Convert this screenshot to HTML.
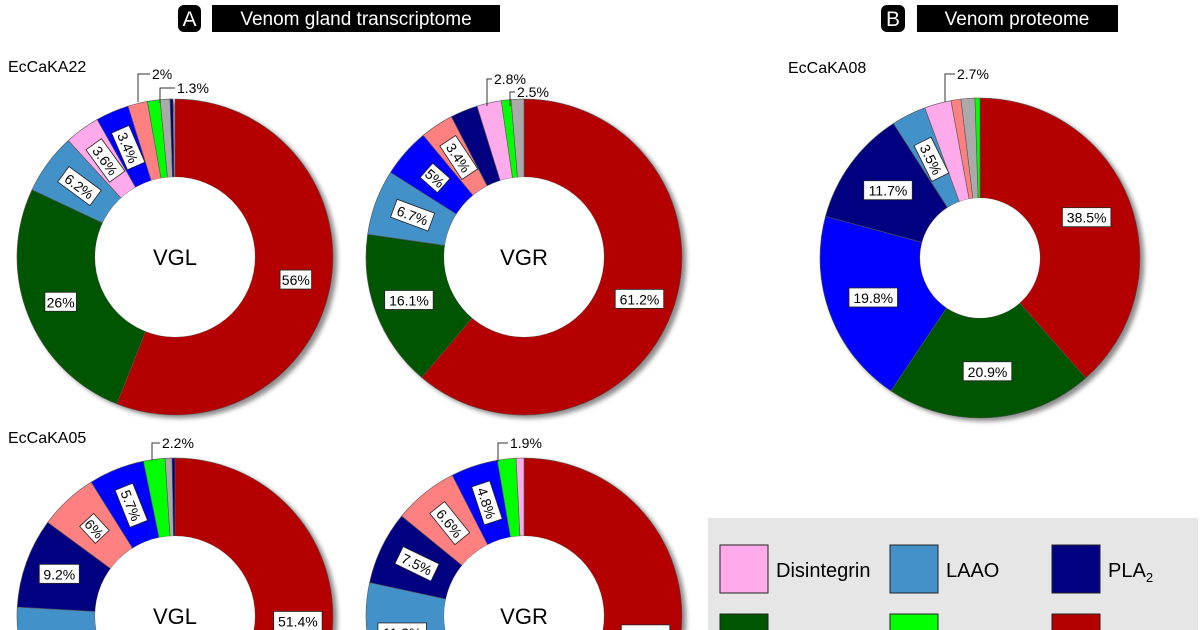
<!DOCTYPE html>
<html><head><meta charset="utf-8"><style>
html,body{margin:0;width:1200px;height:630px;overflow:hidden;background:#fff;font-family:"Liberation Sans",sans-serif}
svg{display:block}
</style></head><body>
<svg id="s" width="1200" height="630" viewBox="0 0 1200 630" xmlns="http://www.w3.org/2000/svg" font-family="Liberation Sans, sans-serif" overflow="hidden">
<defs><filter id="sh" x="-10%" y="-10%" width="130%" height="130%"><feDropShadow dx="4" dy="3" stdDeviation="2.5" flood-color="#000" flood-opacity="0.45"/></filter></defs>
<rect x="178" y="5" width="23" height="27" rx="6" fill="#000"/><text x="189.5" y="26" fill="#fff" font-size="21" text-anchor="middle">A</text>
<rect x="212" y="5" width="288" height="27" fill="#000"/><text x="356" y="25" fill="#fff" font-size="19" text-anchor="middle">Venom gland transcriptome</text>
<rect x="881" y="5" width="24" height="27" rx="6" fill="#000"/><text x="893" y="26" fill="#fff" font-size="21" text-anchor="middle">B</text>
<rect x="917" y="5" width="201" height="27" fill="#000"/><text x="1017" y="25" fill="#fff" font-size="19" text-anchor="middle">Venom proteome</text>
<text x="8" y="72" font-size="16">EcCaKA22</text>
<text x="8" y="443" font-size="16">EcCaKA05</text>
<text x="788" y="73" font-size="16">EcCaKA08</text>
<rect x="708" y="518" width="490" height="112" fill="#e6e6e6"/>
<g stroke="#222" stroke-width="1">
<rect x="720" y="545" width="48" height="48" fill="#ffaaea"/><rect x="890" y="545" width="48" height="48" fill="#4391c8"/><rect x="1052" y="545" width="48" height="48" fill="#000080"/>
<rect x="720" y="614" width="48" height="30" fill="#005500"/><rect x="890" y="614" width="48" height="30" fill="#00ff00"/><rect x="1052" y="614" width="48" height="30" fill="#b40000"/>
</g>
<text x="776" y="577" font-size="20">Disintegrin</text><text x="946" y="577" font-size="20">LAAO</text><text x="1108" y="577" font-size="20">PLA<tspan font-size="13" dy="5">2</tspan></text>
<g id="g"></g>
</svg>
<script>
var C={red:"#b40000",green:"#005500",laao:"#4391c8",pink:"#ffaaea",blue:"#0000ff",sal:"#ff8080",lime:"#00ff00",gray:"#aaaaaa",navy:"#000080"};
var charts=[
{cx:175,cy:257,ro:158,ri:80,t:"VGL",s:[["red",56,"56%"],["green",26,"26%"],["laao",6.2,"6.2%"],["pink",3.6,"3.6%"],["blue",3.4,"3.4%"],["sal",2,""],["lime",1.3,""],["gray",1,""],["navy",0.3,""]]},
{cx:524,cy:257,ro:158,ri:80,t:"VGR",s:[["red",61.2,"61.2%"],["green",16.1,"16.1%"],["laao",6.7,"6.7%"],["blue",5,"5%"],["sal",3.4,"3.4%"],["navy",2.8,""],["pink",2.5,""],["lime",1,""],["gray",1.3,""]]},
{cx:980,cy:258,ro:160,ri:60,t:"",s:[["red",38.5,"38.5%"],["green",20.9,"20.9%"],["blue",19.8,"19.8%"],["navy",11.7,"11.7%"],["laao",3.5,"3.5%"],["pink",2.7,""],["sal",1,""],["gray",1.4,""],["lime",0.5,""]]},
{cx:175,cy:616,ro:158,ri:80,t:"VGL",s:[["red",51.4,"51.4%"],["green",20,""],["laao",4.5,""],["navy",9.2,"9.2%"],["sal",6,"6%"],["blue",5.7,"5.7%"],["lime",2.2,""],["gray",0.7,""],["navy",0.3,""]]},
{cx:524,cy:616,ro:158,ri:80,t:"VGR",s:[["red",54.9,"54.9%"],["green",12.3,""],["laao",11.2,"11.2%"],["navy",7.5,"7.5%"],["sal",6.6,"6.6%"],["blue",4.8,"4.8%"],["lime",1.9,""],["pink",0.8,""]]}
];
var h="";
function P(cx,cy,r,a){return [cx+r*Math.sin(a),cy-r*Math.cos(a)];}
charts.forEach(function(c){
 var a=0,lab="";
 h+='<g filter="url(#sh)">';
 c.s.forEach(function(s){
  var da=s[1]/100*2*Math.PI,a2=a+da,l=da>Math.PI?1:0;
  var p1=P(c.cx,c.cy,c.ro,a),p2=P(c.cx,c.cy,c.ro,a2),p3=P(c.cx,c.cy,c.ri,a2),p4=P(c.cx,c.cy,c.ri,a);
  h+='<path d="M'+p1+' A'+c.ro+' '+c.ro+' 0 '+l+' 1 '+p2+' L'+p3+' A'+c.ri+' '+c.ri+' 0 '+l+' 0 '+p4+'Z" fill="'+C[s[0]]+'" stroke="#555" stroke-width="0.6"/>';
  if(s[2]){var m=a+da/2,rr=(c.ro+c.ri)/2+(s[1]<8?0:4),q=P(c.cx,c.cy,rr,m);
   var rot=s[1]<8?(m*180/Math.PI+90)%360:0; if(rot>180)rot-=360;
   var w=s[2].length*8.5+6;
   lab+='<g transform="translate('+q[0]+','+q[1]+') rotate('+rot+')"><rect x="'+(-w/2)+'" y="-10" width="'+w+'" height="19" fill="#fff" stroke="#222" stroke-width="0.8"/><text y="5" font-size="14" text-anchor="middle">'+s[2]+'</text></g>';}
  a=a2;});
 h+='</g><circle cx="'+c.cx+'" cy="'+c.cy+'" r="'+c.ri+'" fill="#fff"/>';
 if(c.t)h+='<text x="'+c.cx+'" y="'+(c.cy+8)+'" font-size="22" text-anchor="middle">'+c.t+'</text>';
 h+=lab;});
h+='<g fill="none" stroke="#333" stroke-width="1"><path d="M138 102 V74 H150"/><path d="M160 103 V88 H175"/><path d="M487 106 V79 H492"/><path d="M510 106 V92 H515"/><path d="M945 102 V74 H955"/><path d="M152 460 V443 H160"/><path d="M498 462 V443 H508"/></g>';
h+='<g font-size="14"><text x="152" y="79">2%</text><text x="177" y="93">1.3%</text><text x="494" y="84">2.8%</text><text x="517" y="97">2.5%</text><text x="957" y="79">2.7%</text><text x="162" y="448">2.2%</text><text x="510" y="448">1.9%</text></g>';
document.getElementById("g").innerHTML=h;
</script>
</body></html>
